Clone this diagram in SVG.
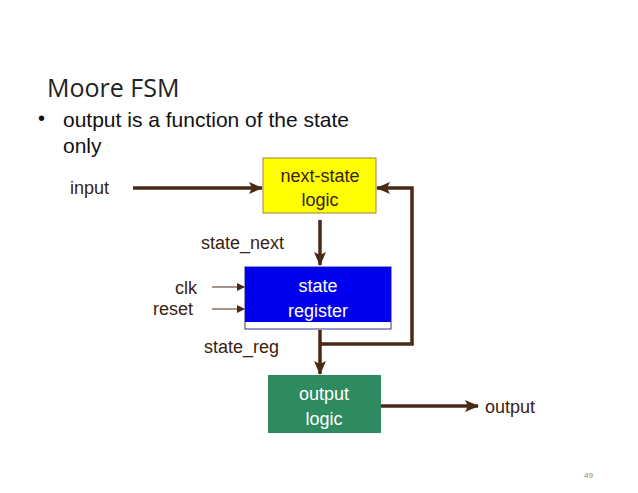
<svg xmlns="http://www.w3.org/2000/svg" width="638" height="493" viewBox="0 0 638 493">
<style>
.t{font-family:"Liberation Sans",Arial,sans-serif;font-size:18px;fill:#3a2210}
.w{font-family:"Liberation Sans",Arial,sans-serif;font-size:18px;fill:#fff;text-anchor:middle}
.k{font-family:"Liberation Sans",Arial,sans-serif;font-size:18px;fill:#3a2210;text-anchor:middle}
.c{stroke:#4a2a14;stroke-width:3.5;fill:none}
.f{stroke:#4a2a14;stroke-width:1;fill:none}
</style>
<defs>
<marker id="a" markerWidth="8" markerHeight="8" refX="7" refY="4" orient="auto" markerUnits="userSpaceOnUse" viewBox="0 0 8 8"><path d="M0,0L8,4L0,8z" fill="#4a2a14"/></marker>
<marker id="b" markerWidth="14" markerHeight="12" refX="13" refY="6" orient="auto" markerUnits="userSpaceOnUse" viewBox="0 0 14 12"><path d="M0,0L14,6L0,12L3,6z" fill="#4a2a14"/></marker>
</defs>
<rect width="638" height="493" fill="#fff"/>
<text x="47" y="97" font-family="Open Sans,sans-serif" font-size="25" fill="#222">Moore FSM</text>
<text x="38" y="125" font-family="Liberation Sans,sans-serif" font-size="20" fill="#111">•</text>
<text x="63" y="127" font-family="Liberation Sans,sans-serif" font-size="21" fill="#111">output is a function of the state</text>
<text x="63" y="153" font-family="Liberation Sans,sans-serif" font-size="21" fill="#111">only</text>
<g id="connectors">
<path class="c" d="M133,188H262" marker-end="url(#b)"/>
<path class="c" d="M320,220V265" marker-end="url(#b)"/>
<path class="c" d="M320,330V374" marker-end="url(#b)"/>
<path class="c" d="M320,344H412V188H377" marker-end="url(#b)"/>
<path class="c" d="M381,406H478" marker-end="url(#b)"/>
<path class="f" d="M212,287H244" marker-end="url(#a)"/>
<path class="f" d="M212,309H244" marker-end="url(#a)"/>
</g>
<g id="next-state"><rect x="263" y="158" width="113" height="55" fill="#ffff00" stroke="#a08040"/><text class="k" x="320" y="182">next-state</text><text class="k" x="320" y="206">logic</text></g>
<g id="state-register"><rect x="245" y="267" width="146" height="62" fill="#fff" stroke="#303090"/><rect x="245" y="267" width="146" height="55" fill="#0000ee"/><text class="w" x="318" y="292">state</text><text class="w" x="318" y="317">register</text></g>
<g id="output-logic"><rect x="268" y="375" width="113" height="58" fill="#2e8b5f"/><text class="w" x="324" y="400">output</text><text class="w" x="324" y="425">logic</text></g>
<text class="t" x="70" y="194">input</text>
<text class="t" x="201" y="249">state_next</text>
<text class="t" x="175" y="294">clk</text>
<text class="t" x="153" y="315">reset</text>
<text class="t" x="204" y="353">state_reg</text>
<text class="t" x="485" y="413">output</text>
<text x="584" y="478" font-family="Liberation Sans,sans-serif" font-size="8" fill="#888">49</text>
</svg>
